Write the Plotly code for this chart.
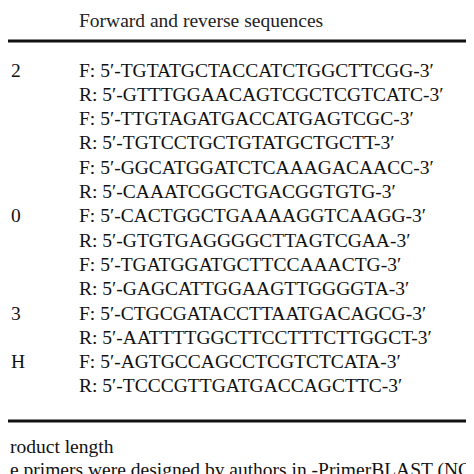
import plotly.graph_objects as go

# table content (left column is cut off in the source picture)
genes = ["2", "", "", "", "", "", "0", "", "", "", "3", "", "H", ""]
sequences = [
    "F: 5′-TGTATGCTACCATCTGGCTTCGG-3′",
    "R: 5′-GTTTGGAACAGTCGCTCGTCATC-3′",
    "F: 5′-TTGTAGATGACCATGAGTCGC-3′",
    "R: 5′-TGTCCTGCTGTATGCTGCTT-3′",
    "F: 5′-GGCATGGATCTCAAAGACAACC-3′",
    "R: 5′-CAAATCGGCTGACGGTGTG-3′",
    "F: 5′-CACTGGCTGAAAAGGTCAAGG-3′",
    "R: 5′-GTGTGAGGGGCTTAGTCGAA-3′",
    "F: 5′-TGATGGATGCTTCCAAACTG-3′",
    "R: 5′-GAGCATTGGAAGTTGGGGTA-3′",
    "F: 5′-CTGCGATACCTTAATGACAGCG-3′",
    "R: 5′-AATTTTGGCTTCCTTTCTTGGCT-3′",
    "F: 5′-AGTGCCAGCCTCGTCTCATA-3′",
    "R: 5′-TCCCGTTGATGACCAGCTTC-3′",
]
header = "Forward and reverse sequences"
footnotes = ["roduct length", "e primers were designed by authors in -PrimerBLAST (NCB"]

font = "Liberation Serif"
fs = 19.5
row_y = [62 + i * 24.3 for i in range(len(sequences))]

fig = go.Figure()
for i, s in enumerate(sequences):
    fig.add_annotation(x=69, y=row_y[i], text=s, xanchor="left", showarrow=False,
                       font=dict(family=font, size=fs, color="#111"))

for i, g in enumerate(genes):
    if g:
        fig.add_annotation(x=1, y=row_y[i], text=g, xanchor="left", showarrow=False,
                           font=dict(family=font, size=fs, color="#111"))

fig.add_annotation(x=69, y=12, text=header, xanchor="left", showarrow=False,
                   font=dict(family=font, size=fs, color="#222"))
fig.add_annotation(x=0, y=438, text=footnotes[0], xanchor="left", showarrow=False,
                   font=dict(family=font, size=fs, color="#111"))
fig.add_annotation(x=0, y=462, text=footnotes[1], xanchor="left", showarrow=False,
                   font=dict(family=font, size=fs, color="#111"))

for yy in [33, 413]:
    fig.add_shape(type="line", xref="paper", x0=-0.05, x1=1.05, y0=yy, y1=yy,
                  line=dict(color="#111", width=3))

fig.update_xaxes(range=[0, 474], visible=False)
fig.update_yaxes(range=[474, 0], visible=False)
fig.update_layout(width=474, height=474, margin=dict(l=0, r=0, t=0, b=0),
                  plot_bgcolor="white", paper_bgcolor="white", showlegend=False)
fig.write_html("out.html")
